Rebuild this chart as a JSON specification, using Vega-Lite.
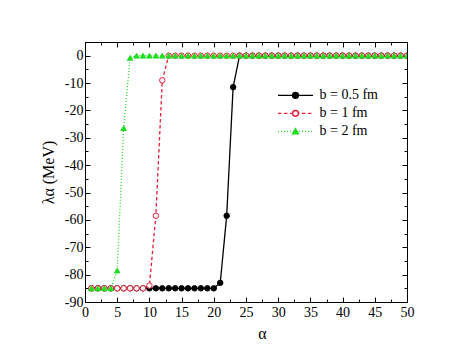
{
  "$schema": "https://vega.github.io/schema/vega-lite/v6.json",
  "width": 322,
  "height": 260,
  "autosize": {"type": "none"},
  "padding": {"left": 85, "top": 42, "right": 67, "bottom": 60},
  "background": "white",
  "config": {
    "view": {"stroke": "black", "strokeWidth": 1},
    "font": "Liberation Serif",
    "axis": {
      "labelFont": "Liberation Serif",
      "labelFontSize": 14,
      "labelColor": "black",
      "titleFont": "Liberation Serif",
      "titleFontSize": 16,
      "titleFontWeight": "normal",
      "titleColor": "black",
      "domainColor": "black",
      "tickColor": "black",
      "grid": false
    },
    "legend": {
      "labelFont": "Liberation Serif",
      "labelFontSize": 14,
      "labelColor": "black"
    }
  },
  "data": {
    "values": [
      {"a": 1, "v": -85, "s": "b = 0.5 fm"}, {"a": 2, "v": -85, "s": "b = 0.5 fm"}, {"a": 3, "v": -85, "s": "b = 0.5 fm"}, {"a": 4, "v": -85, "s": "b = 0.5 fm"}, {"a": 5, "v": -85, "s": "b = 0.5 fm"},
      {"a": 6, "v": -85, "s": "b = 0.5 fm"}, {"a": 7, "v": -85, "s": "b = 0.5 fm"}, {"a": 8, "v": -85, "s": "b = 0.5 fm"}, {"a": 9, "v": -85, "s": "b = 0.5 fm"}, {"a": 10, "v": -85, "s": "b = 0.5 fm"},
      {"a": 11, "v": -85, "s": "b = 0.5 fm"}, {"a": 12, "v": -85, "s": "b = 0.5 fm"}, {"a": 13, "v": -85, "s": "b = 0.5 fm"}, {"a": 14, "v": -85, "s": "b = 0.5 fm"}, {"a": 15, "v": -85, "s": "b = 0.5 fm"},
      {"a": 16, "v": -85, "s": "b = 0.5 fm"}, {"a": 17, "v": -85, "s": "b = 0.5 fm"}, {"a": 18, "v": -85, "s": "b = 0.5 fm"}, {"a": 19, "v": -85, "s": "b = 0.5 fm"}, {"a": 20, "v": -85, "s": "b = 0.5 fm"},
      {"a": 21, "v": -83, "s": "b = 0.5 fm"}, {"a": 22, "v": -58.5, "s": "b = 0.5 fm"}, {"a": 23, "v": -11.5, "s": "b = 0.5 fm"}, {"a": 24, "v": 0, "s": "b = 0.5 fm"}, {"a": 25, "v": 0, "s": "b = 0.5 fm"},
      {"a": 26, "v": 0, "s": "b = 0.5 fm"}, {"a": 27, "v": 0, "s": "b = 0.5 fm"}, {"a": 28, "v": 0, "s": "b = 0.5 fm"}, {"a": 29, "v": 0, "s": "b = 0.5 fm"}, {"a": 30, "v": 0, "s": "b = 0.5 fm"},
      {"a": 31, "v": 0, "s": "b = 0.5 fm"}, {"a": 32, "v": 0, "s": "b = 0.5 fm"}, {"a": 33, "v": 0, "s": "b = 0.5 fm"}, {"a": 34, "v": 0, "s": "b = 0.5 fm"}, {"a": 35, "v": 0, "s": "b = 0.5 fm"},
      {"a": 36, "v": 0, "s": "b = 0.5 fm"}, {"a": 37, "v": 0, "s": "b = 0.5 fm"}, {"a": 38, "v": 0, "s": "b = 0.5 fm"}, {"a": 39, "v": 0, "s": "b = 0.5 fm"}, {"a": 40, "v": 0, "s": "b = 0.5 fm"},
      {"a": 41, "v": 0, "s": "b = 0.5 fm"}, {"a": 42, "v": 0, "s": "b = 0.5 fm"}, {"a": 43, "v": 0, "s": "b = 0.5 fm"}, {"a": 44, "v": 0, "s": "b = 0.5 fm"}, {"a": 45, "v": 0, "s": "b = 0.5 fm"},
      {"a": 46, "v": 0, "s": "b = 0.5 fm"}, {"a": 47, "v": 0, "s": "b = 0.5 fm"}, {"a": 48, "v": 0, "s": "b = 0.5 fm"}, {"a": 49, "v": 0, "s": "b = 0.5 fm"}, {"a": 50, "v": 0, "s": "b = 0.5 fm"},
      {"a": 1, "v": -85, "s": "b = 1 fm"}, {"a": 2, "v": -85, "s": "b = 1 fm"}, {"a": 3, "v": -85, "s": "b = 1 fm"}, {"a": 4, "v": -85, "s": "b = 1 fm"}, {"a": 5, "v": -85, "s": "b = 1 fm"},
      {"a": 6, "v": -85, "s": "b = 1 fm"}, {"a": 7, "v": -85, "s": "b = 1 fm"}, {"a": 8, "v": -85, "s": "b = 1 fm"}, {"a": 9, "v": -85, "s": "b = 1 fm"}, {"a": 10, "v": -84, "s": "b = 1 fm"},
      {"a": 11, "v": -58.5, "s": "b = 1 fm"}, {"a": 12, "v": -9, "s": "b = 1 fm"}, {"a": 13, "v": 0, "s": "b = 1 fm"}, {"a": 14, "v": 0, "s": "b = 1 fm"}, {"a": 15, "v": 0, "s": "b = 1 fm"},
      {"a": 16, "v": 0, "s": "b = 1 fm"}, {"a": 17, "v": 0, "s": "b = 1 fm"}, {"a": 18, "v": 0, "s": "b = 1 fm"}, {"a": 19, "v": 0, "s": "b = 1 fm"}, {"a": 20, "v": 0, "s": "b = 1 fm"},
      {"a": 21, "v": 0, "s": "b = 1 fm"}, {"a": 22, "v": 0, "s": "b = 1 fm"}, {"a": 23, "v": 0, "s": "b = 1 fm"}, {"a": 24, "v": 0, "s": "b = 1 fm"}, {"a": 25, "v": 0, "s": "b = 1 fm"},
      {"a": 26, "v": 0, "s": "b = 1 fm"}, {"a": 27, "v": 0, "s": "b = 1 fm"}, {"a": 28, "v": 0, "s": "b = 1 fm"}, {"a": 29, "v": 0, "s": "b = 1 fm"}, {"a": 30, "v": 0, "s": "b = 1 fm"},
      {"a": 31, "v": 0, "s": "b = 1 fm"}, {"a": 32, "v": 0, "s": "b = 1 fm"}, {"a": 33, "v": 0, "s": "b = 1 fm"}, {"a": 34, "v": 0, "s": "b = 1 fm"}, {"a": 35, "v": 0, "s": "b = 1 fm"},
      {"a": 36, "v": 0, "s": "b = 1 fm"}, {"a": 37, "v": 0, "s": "b = 1 fm"}, {"a": 38, "v": 0, "s": "b = 1 fm"}, {"a": 39, "v": 0, "s": "b = 1 fm"}, {"a": 40, "v": 0, "s": "b = 1 fm"},
      {"a": 41, "v": 0, "s": "b = 1 fm"}, {"a": 42, "v": 0, "s": "b = 1 fm"}, {"a": 43, "v": 0, "s": "b = 1 fm"}, {"a": 44, "v": 0, "s": "b = 1 fm"}, {"a": 45, "v": 0, "s": "b = 1 fm"},
      {"a": 46, "v": 0, "s": "b = 1 fm"}, {"a": 47, "v": 0, "s": "b = 1 fm"}, {"a": 48, "v": 0, "s": "b = 1 fm"}, {"a": 49, "v": 0, "s": "b = 1 fm"}, {"a": 50, "v": 0, "s": "b = 1 fm"},
      {"a": 1, "v": -85, "s": "b = 2 fm"}, {"a": 2, "v": -85, "s": "b = 2 fm"}, {"a": 3, "v": -85, "s": "b = 2 fm"}, {"a": 4, "v": -85, "s": "b = 2 fm"}, {"a": 5, "v": -78.5, "s": "b = 2 fm"},
      {"a": 6, "v": -26.5, "s": "b = 2 fm"}, {"a": 7, "v": -0.8, "s": "b = 2 fm"}, {"a": 8, "v": 0, "s": "b = 2 fm"}, {"a": 9, "v": 0, "s": "b = 2 fm"}, {"a": 10, "v": 0, "s": "b = 2 fm"},
      {"a": 11, "v": 0, "s": "b = 2 fm"}, {"a": 12, "v": 0, "s": "b = 2 fm"}, {"a": 13, "v": 0, "s": "b = 2 fm"}, {"a": 14, "v": 0, "s": "b = 2 fm"}, {"a": 15, "v": 0, "s": "b = 2 fm"},
      {"a": 16, "v": 0, "s": "b = 2 fm"}, {"a": 17, "v": 0, "s": "b = 2 fm"}, {"a": 18, "v": 0, "s": "b = 2 fm"}, {"a": 19, "v": 0, "s": "b = 2 fm"}, {"a": 20, "v": 0, "s": "b = 2 fm"},
      {"a": 21, "v": 0, "s": "b = 2 fm"}, {"a": 22, "v": 0, "s": "b = 2 fm"}, {"a": 23, "v": 0, "s": "b = 2 fm"}, {"a": 24, "v": 0, "s": "b = 2 fm"}, {"a": 25, "v": 0, "s": "b = 2 fm"},
      {"a": 26, "v": 0, "s": "b = 2 fm"}, {"a": 27, "v": 0, "s": "b = 2 fm"}, {"a": 28, "v": 0, "s": "b = 2 fm"}, {"a": 29, "v": 0, "s": "b = 2 fm"}, {"a": 30, "v": 0, "s": "b = 2 fm"},
      {"a": 31, "v": 0, "s": "b = 2 fm"}, {"a": 32, "v": 0, "s": "b = 2 fm"}, {"a": 33, "v": 0, "s": "b = 2 fm"}, {"a": 34, "v": 0, "s": "b = 2 fm"}, {"a": 35, "v": 0, "s": "b = 2 fm"},
      {"a": 36, "v": 0, "s": "b = 2 fm"}, {"a": 37, "v": 0, "s": "b = 2 fm"}, {"a": 38, "v": 0, "s": "b = 2 fm"}, {"a": 39, "v": 0, "s": "b = 2 fm"}, {"a": 40, "v": 0, "s": "b = 2 fm"},
      {"a": 41, "v": 0, "s": "b = 2 fm"}, {"a": 42, "v": 0, "s": "b = 2 fm"}, {"a": 43, "v": 0, "s": "b = 2 fm"}, {"a": 44, "v": 0, "s": "b = 2 fm"}, {"a": 45, "v": 0, "s": "b = 2 fm"},
      {"a": 46, "v": 0, "s": "b = 2 fm"}, {"a": 47, "v": 0, "s": "b = 2 fm"}, {"a": 48, "v": 0, "s": "b = 2 fm"}, {"a": 49, "v": 0, "s": "b = 2 fm"}, {"a": 50, "v": 0, "s": "b = 2 fm"}
    ]
  },
  "layer": [
    {
      "mark": {"type": "line", "strokeWidth": 1.3, "clip": true},
      "encoding": {
        "x": {
          "field": "a", "type": "quantitative",
          "scale": {"domain": [0, 50], "nice": false},
          "axis": {
            "orient": "bottom",
            "title": "α",
            "titleX": 177,
            "titlePadding": 6,
            "values": [0, 2.5, 5, 7.5, 10, 12.5, 15, 17.5, 20, 22.5, 25, 27.5, 30, 32.5, 35, 37.5, 40, 42.5, 45, 47.5, 50],
            "labelExpr": "datum.value % 5 === 0 ? '' + datum.value : ''",
            "tickSize": {"condition": {"test": "datum.value % 5 === 0", "value": -5}, "value": -3},
            "labelPadding": 8,
            "labelFlush": false
          }
        },
        "y": {
          "field": "v", "type": "quantitative",
          "scale": {"domain": [-90, 5], "nice": false, "zero": false},
          "axis": {
            "orient": "left",
            "title": "λα (MeV)",
            "titlePadding": 8,
            "values": [-90, -85, -80, -75, -70, -65, -60, -55, -50, -45, -40, -35, -30, -25, -20, -15, -10, -5, 0],
            "labelExpr": "datum.value % 10 === 0 ? '' + datum.value : ''",
            "tickSize": {"condition": {"test": "datum.value % 10 === 0", "value": -5}, "value": -3},
            "labelPadding": 7
          }
        },
        "color": {
          "field": "s", "type": "nominal",
          "scale": {"domain": ["b = 0.5 fm", "b = 1 fm", "b = 2 fm"], "range": ["black", "#e8203a", "#22dd22"]},
          "legend": {
            "orient": "none", "legendX": 203.5, "legendY": 46.3, "title": null,
            "symbolType": "M-6,0H6", "symbolSize": 34, "symbolStrokeWidth": 1.3,
            "labelOffset": 17, "rowPadding": 4, "padding": 0
          }
        },
        "strokeDash": {
          "field": "s", "type": "nominal",
          "scale": {"domain": ["b = 0.5 fm", "b = 1 fm", "b = 2 fm"], "range": [[1, 0], [3.5, 2.5], [1, 2]]},
          "legend": {
            "orient": "none", "legendX": 203.5, "legendY": 46.3, "title": null,
            "symbolType": "M-6,0H6", "symbolSize": 34, "symbolStrokeWidth": 1.3,
            "labelOffset": 17, "rowPadding": 4, "padding": 0
          }
        }
      }
    },
    {
      "mark": {"type": "point", "filled": false, "size": 30, "strokeWidth": 1, "opacity": 1, "clip": true},
      "encoding": {
        "x": {
          "field": "a", "type": "quantitative",
          "scale": {"domain": [0, 50], "nice": false},
          "axis": {
            "orient": "top",
            "title": null,
            "values": [0, 2.5, 5, 7.5, 10, 12.5, 15, 17.5, 20, 22.5, 25, 27.5, 30, 32.5, 35, 37.5, 40, 42.5, 45, 47.5, 50],
            "labels": false,
            "tickSize": {"condition": {"test": "datum.value % 5 === 0", "value": -5}, "value": -3}
          }
        },
        "y": {
          "field": "v", "type": "quantitative",
          "scale": {"domain": [-90, 5], "nice": false, "zero": false},
          "axis": {
            "orient": "right",
            "title": null,
            "values": [-90, -85, -80, -75, -70, -65, -60, -55, -50, -45, -40, -35, -30, -25, -20, -15, -10, -5, 0],
            "labels": false,
            "tickSize": {"condition": {"test": "datum.value % 10 === 0", "value": -5}, "value": -3}
          }
        },
        "color": {
          "field": "s", "type": "nominal",
          "scale": {"domain": ["b = 0.5 fm", "b = 1 fm", "b = 2 fm"], "range": ["black", "#e8203a", "#22dd22"]},
          "legend": {
            "orient": "none", "legendX": 203.5, "legendY": 46.3, "title": null,
            "symbolSize": 34, "labelExpr": "' '", "labelOffset": 17, "rowPadding": 4, "padding": 0
          }
        },
        "shape": {
          "field": "s", "type": "nominal",
          "scale": {"domain": ["b = 0.5 fm", "b = 1 fm", "b = 2 fm"], "range": ["circle", "circle", "triangle-up"]},
          "legend": {
            "orient": "none", "legendX": 203.5, "legendY": 46.3, "title": null,
            "symbolSize": 34, "labelExpr": "' '", "labelOffset": 17, "rowPadding": 4, "padding": 0
          }
        },
        "fill": {
          "field": "s", "type": "nominal",
          "scale": {"domain": ["b = 0.5 fm", "b = 1 fm", "b = 2 fm"], "range": ["black", "white", "#22dd22"]},
          "legend": {
            "orient": "none", "legendX": 203.5, "legendY": 46.3, "title": null,
            "symbolSize": 34, "labelExpr": "' '", "labelOffset": 17, "rowPadding": 4, "padding": 0
          }
        }
      }
    }
  ],
  "resolve": {
    "axis": {"x": "independent", "y": "independent"},
    "legend": {"color": "independent", "strokeDash": "independent", "shape": "independent", "fill": "independent"}
  }
}
